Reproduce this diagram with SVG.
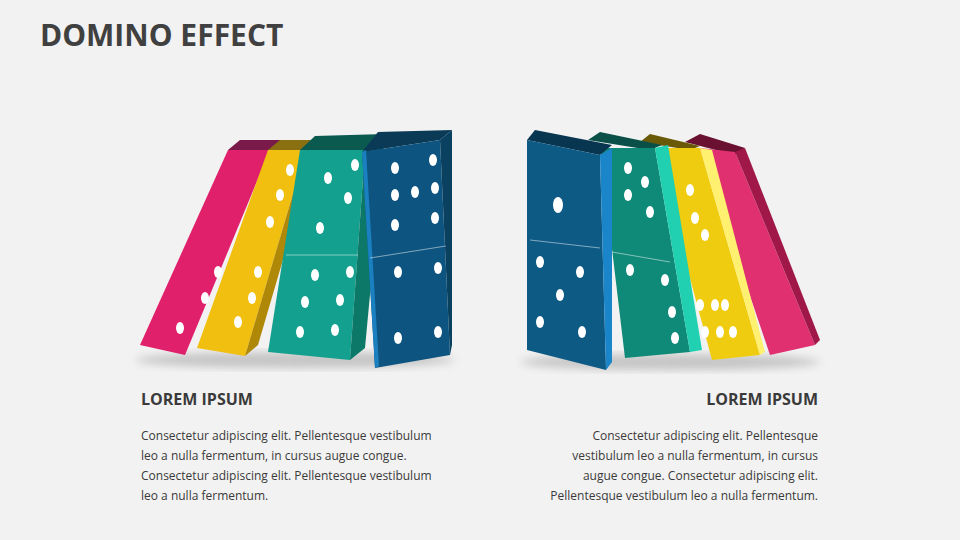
<svg xmlns="http://www.w3.org/2000/svg" width="960" height="540" viewBox="0 0 960 540">
<defs>
<style>
.t{font-family:"Open Sans","Liberation Sans",sans-serif}
.h{font-size:16px;font-weight:bold;fill:#3a3a3a}
.b{font-size:12px;fill:#3a3a3a}
.p{fill:#fff}
.ln{stroke:#fff;stroke-width:0.8;opacity:0.6}
</style>
<filter id="sh" x="-20%" y="-20%" width="140%" height="140%"><feGaussianBlur stdDeviation="4"/></filter>
</defs>
<rect width="960" height="540" fill="#f2f2f2"/>
<text x="40" y="46" class="t" font-size="30" font-weight="bold" fill="#404040">DOMINO EFFECT</text>
<ellipse cx="295" cy="360" rx="160" ry="8" fill="#999" opacity="0.5" filter="url(#sh)"/>
<ellipse cx="670" cy="362" rx="150" ry="8" fill="#999" opacity="0.5" filter="url(#sh)"/>
<g id="left-pink">
<polygon points="228,150 240,140 282,140 270,150" fill="#7a1a4a"/>
<polygon points="228,150 270,150 185,355 140,345" fill="#e0206a"/>
<ellipse class="p" cx="218" cy="272" rx="4" ry="6"/><ellipse class="p" cx="205" cy="298" rx="4" ry="6"/><ellipse class="p" cx="180" cy="328" rx="4" ry="6"/>
</g>
<g id="left-yellow">
<polygon points="268,150 280,140 318,140 306,150" fill="#8a7010"/>
<polygon points="268,150 306,150 245,356 197,348" fill="#f0bf10"/>
<polygon points="306,150 318,140 258,345 245,356" fill="#b08808"/>
<ellipse class="p" cx="290" cy="170" rx="4" ry="6"/><ellipse class="p" cx="280" cy="195" rx="4" ry="6"/><ellipse class="p" cx="270" cy="222" rx="4" ry="6"/>
<ellipse class="p" cx="258" cy="272" rx="4" ry="6"/><ellipse class="p" cx="252" cy="298" rx="4" ry="6"/><ellipse class="p" cx="238" cy="322" rx="4" ry="6"/>
</g>
<g id="left-green">
<polygon points="300,150 315,136 385,134 365,150" fill="#0b5a50"/>
<polygon points="300,150 365,150 350,360 268,352" fill="#14a08e"/>
<polygon points="365,150 385,134 365,348 350,360" fill="#0c7868"/>
<line class="ln" x1="286" y1="255" x2="358" y2="255"/>
<ellipse class="p" cx="355" cy="165" rx="4" ry="6"/><ellipse class="p" cx="328" cy="178" rx="4" ry="6"/><ellipse class="p" cx="348" cy="198" rx="4" ry="6"/><ellipse class="p" cx="320" cy="228" rx="4" ry="6"/>
<ellipse class="p" cx="315" cy="275" rx="4" ry="6"/><ellipse class="p" cx="350" cy="272" rx="4" ry="6"/><ellipse class="p" cx="305" cy="302" rx="4" ry="6"/><ellipse class="p" cx="340" cy="300" rx="4" ry="6"/><ellipse class="p" cx="300" cy="332" rx="4" ry="6"/><ellipse class="p" cx="335" cy="330" rx="4" ry="6"/>
</g>
<g id="left-blue">
<polygon points="362,152 378,132 452,130 440,140" fill="#0a3a55"/>
<polygon points="362,152 440,140 450,355 375,368" fill="#0d5580"/>
<polygon points="440,140 452,130 452,345 450,355" fill="#0a4060"/>
<polygon points="362,152 366,150 379,366 375,368" fill="#1a80c0"/>
<line class="ln" x1="370" y1="258" x2="446" y2="246"/>
<ellipse class="p" cx="395" cy="168" rx="4" ry="6"/><ellipse class="p" cx="433" cy="160" rx="4" ry="6"/><ellipse class="p" cx="395" cy="195" rx="4" ry="6"/><ellipse class="p" cx="415" cy="192" rx="4" ry="6"/><ellipse class="p" cx="435" cy="188" rx="4" ry="6"/>
<ellipse class="p" cx="395" cy="225" rx="4" ry="6"/><ellipse class="p" cx="435" cy="218" rx="4" ry="6"/>
<ellipse class="p" cx="398" cy="272" rx="4" ry="6"/><ellipse class="p" cx="438" cy="268" rx="4" ry="6"/><ellipse class="p" cx="398" cy="338" rx="4" ry="6"/><ellipse class="p" cx="438" cy="332" rx="4" ry="6"/>
</g>
<g id="right-pink">
<polygon points="685,142 700,134 745,148 735,155" fill="#6a1030"/>
<polygon points="700,148 735,152 815,345 770,355" fill="#e03070"/>
<polygon points="735,152 745,148 820,340 815,345" fill="#a01848"/>
</g>
<g id="right-yellow">
<polygon points="640,142 650,134 700,146 690,150" fill="#6a5a08"/>
<polygon points="655,148 700,148 760,355 712,360" fill="#f0cc10"/>
<polygon points="700,148 712,150 765,352 760,355" fill="#fff070"/>
<ellipse class="p" cx="690" cy="190" rx="4" ry="6"/><ellipse class="p" cx="695" cy="218" rx="4" ry="6"/><ellipse class="p" cx="705" cy="235" rx="4" ry="6"/>
<ellipse class="p" cx="700" cy="305" rx="4" ry="6"/><ellipse class="p" cx="715" cy="305" rx="4" ry="6"/><ellipse class="p" cx="725" cy="305" rx="4" ry="6"/><ellipse class="p" cx="705" cy="332" rx="4" ry="6"/><ellipse class="p" cx="720" cy="332" rx="4" ry="6"/><ellipse class="p" cx="733" cy="332" rx="4" ry="6"/>
</g>
<g id="right-green">
<polygon points="588,140 600,132 662,145 650,150" fill="#0a5048"/>
<polygon points="600,148 655,148 690,352 625,358" fill="#108a78"/>
<polygon points="655,148 668,145 702,350 690,352" fill="#20d0b0"/>
<line class="ln" x1="612" y1="252" x2="670" y2="262"/>
<ellipse class="p" cx="628" cy="168" rx="4" ry="6"/><ellipse class="p" cx="645" cy="182" rx="4" ry="6"/><ellipse class="p" cx="628" cy="195" rx="4" ry="6"/><ellipse class="p" cx="650" cy="212" rx="4" ry="6"/>
<ellipse class="p" cx="630" cy="270" rx="4" ry="6"/><ellipse class="p" cx="665" cy="280" rx="4" ry="6"/><ellipse class="p" cx="672" cy="312" rx="4" ry="6"/><ellipse class="p" cx="675" cy="338" rx="4" ry="6"/>
</g>
<g id="right-blue">
<polygon points="527,140 535,130 612,145 600,155" fill="#083550"/>
<polygon points="527,140 600,155 606,370 527,350" fill="#0d5a85"/>
<polygon points="600,155 612,148 612,362 606,370" fill="#1a85c8"/>
<line class="ln" x1="530" y1="240" x2="600" y2="248"/>
<ellipse class="p" cx="558" cy="205" rx="5" ry="8"/>
<ellipse class="p" cx="540" cy="262" rx="4" ry="6"/><ellipse class="p" cx="580" cy="272" rx="4" ry="6"/><ellipse class="p" cx="560" cy="295" rx="4" ry="6"/><ellipse class="p" cx="540" cy="322" rx="4" ry="6"/><ellipse class="p" cx="582" cy="332" rx="4" ry="6"/>
</g>
<g id="text-left">
<text x="141" y="405" class="t h">LOREM IPSUM</text>
<text class="t b"><tspan x="141" y="440">Consectetur adipiscing elit. Pellentesque vestibulum</tspan><tspan x="141" y="460">leo a nulla fermentum, in cursus augue congue.</tspan><tspan x="141" y="480">Consectetur adipiscing elit. Pellentesque vestibulum</tspan><tspan x="141" y="500">leo a nulla fermentum.</tspan></text>
</g>
<g id="text-right">
<text x="818" y="405" class="t h" text-anchor="end">LOREM IPSUM</text>
<text class="t b" text-anchor="end"><tspan x="818" y="440">Consectetur adipiscing elit. Pellentesque</tspan><tspan x="818" y="460">vestibulum leo a nulla fermentum, in cursus</tspan><tspan x="818" y="480">augue congue. Consectetur adipiscing elit.</tspan><tspan x="818" y="500">Pellentesque vestibulum leo a nulla fermentum.</tspan></text>
</g>
</svg>
